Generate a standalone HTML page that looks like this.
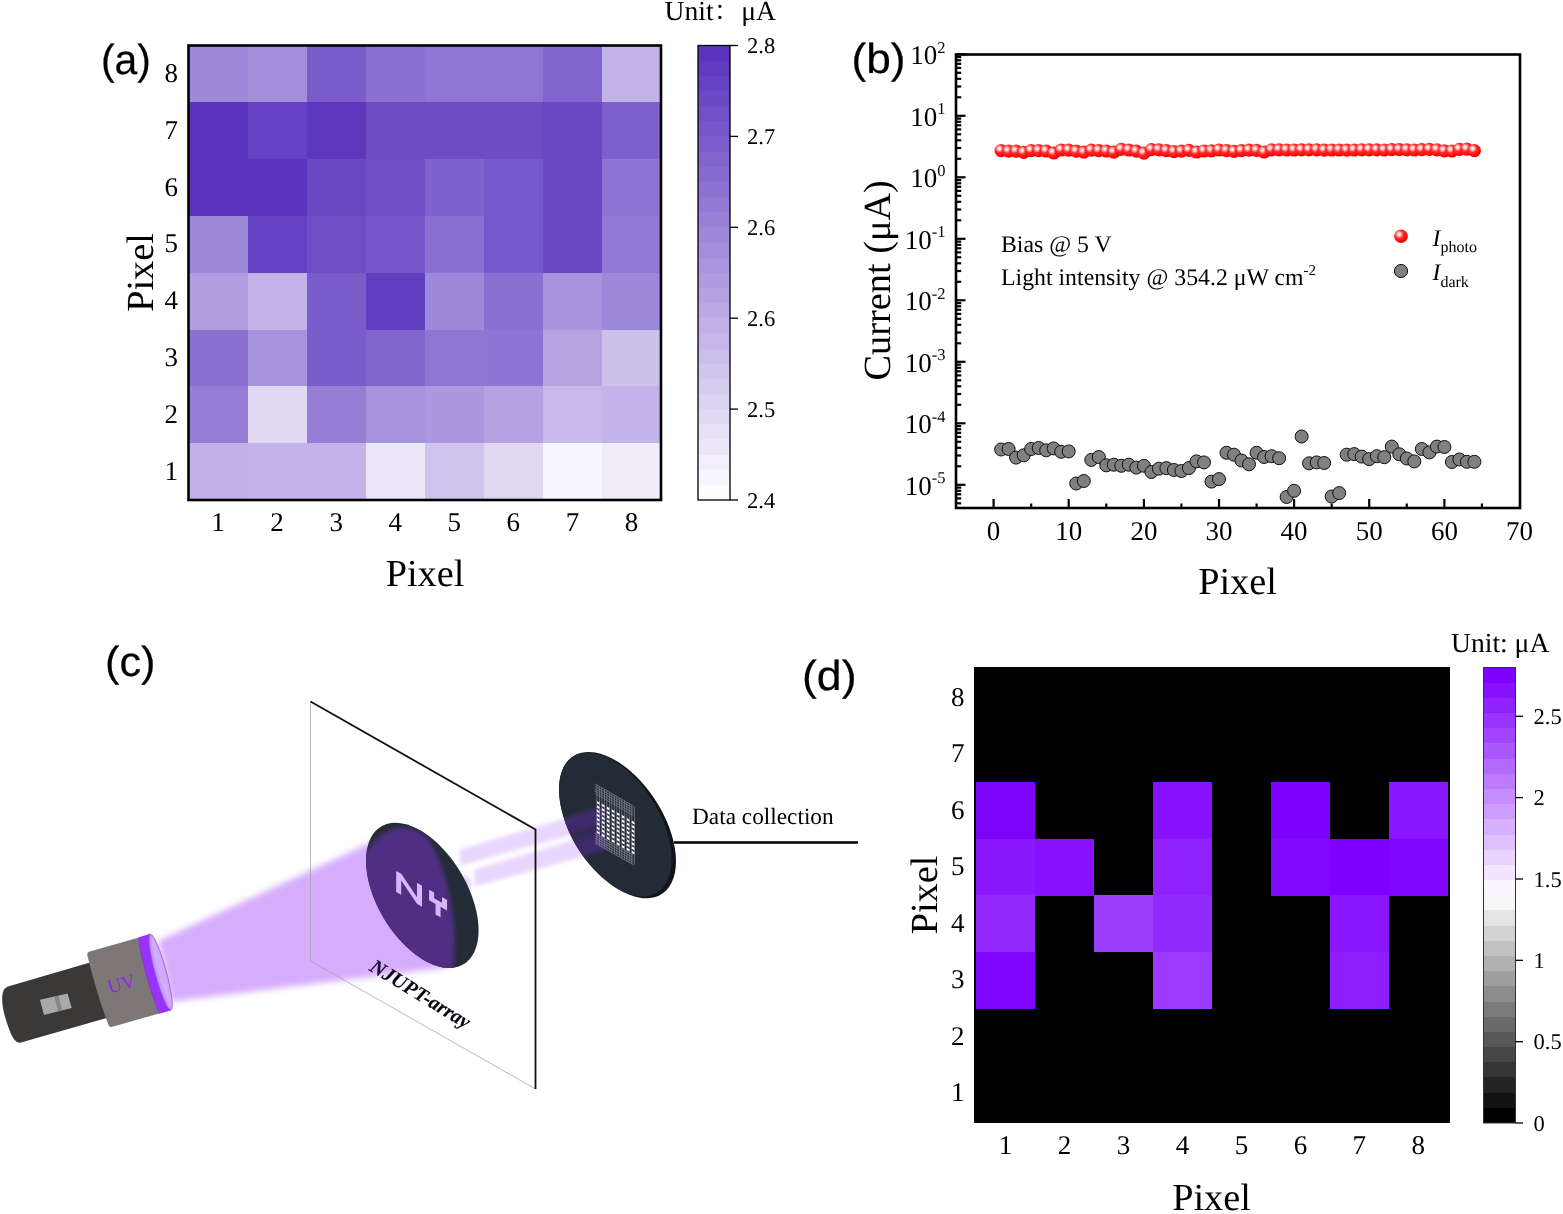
<!DOCTYPE html>
<html lang="en"><head><meta charset="utf-8"><title>Figure</title>
<style>
html,body{margin:0;padding:0;background:#fff;}
body{width:1563px;height:1214px;overflow:hidden;}
svg{display:block;}
</style></head>
<body>
<svg width="1563" height="1214" viewBox="0 0 1563 1214" text-rendering="geometricPrecision">
<rect width="1563" height="1214" fill="#fff"/>
<defs>
<radialGradient id="rg" cx="0.38" cy="0.36" r="0.62" fx="0.36" fy="0.34">
<stop offset="0" stop-color="#ffffff"/><stop offset="0.18" stop-color="#ffd2d2"/>
<stop offset="0.5" stop-color="#ff2a2a"/><stop offset="1" stop-color="#f40000"/>
</radialGradient>
<filter id="b1" x="-20%" y="-20%" width="140%" height="140%"><feGaussianBlur stdDeviation="1.2"/></filter>
<filter id="b2" x="-20%" y="-20%" width="140%" height="140%"><feGaussianBlur stdDeviation="2.2"/></filter>
<filter id="b3" x="-20%" y="-20%" width="140%" height="140%"><feGaussianBlur stdDeviation="3.2"/></filter>
<filter id="b5" x="-30%" y="-30%" width="160%" height="160%"><feGaussianBlur stdDeviation="5"/></filter>
</defs>
<g id="panel-a" shape-rendering="crispEdges">
<rect x="188.50" y="45.50" width="59.46" height="57.21" fill="#9e88d9"/>
<rect x="247.56" y="45.50" width="59.46" height="57.21" fill="#a38edb"/>
<rect x="306.62" y="45.50" width="59.46" height="57.21" fill="#7b5ccb"/>
<rect x="365.69" y="45.50" width="59.46" height="57.21" fill="#8b70d2"/>
<rect x="424.75" y="45.50" width="59.46" height="57.21" fill="#9076d3"/>
<rect x="483.81" y="45.50" width="59.46" height="57.21" fill="#9076d3"/>
<rect x="542.88" y="45.50" width="59.46" height="57.21" fill="#8164ce"/>
<rect x="601.94" y="45.50" width="59.46" height="57.21" fill="#c1b2e7"/>
<rect x="188.50" y="102.31" width="59.46" height="57.21" fill="#5a34be"/>
<rect x="247.56" y="102.31" width="59.46" height="57.21" fill="#6542c3"/>
<rect x="306.62" y="102.31" width="59.46" height="57.21" fill="#5d38bf"/>
<rect x="365.69" y="102.31" width="59.46" height="57.21" fill="#6e4cc6"/>
<rect x="424.75" y="102.31" width="59.46" height="57.21" fill="#6e4cc6"/>
<rect x="483.81" y="102.31" width="59.46" height="57.21" fill="#6e4cc6"/>
<rect x="542.88" y="102.31" width="59.46" height="57.21" fill="#6a48c4"/>
<rect x="601.94" y="102.31" width="59.46" height="57.21" fill="#7e60cc"/>
<rect x="188.50" y="159.12" width="59.46" height="57.21" fill="#5a34be"/>
<rect x="247.56" y="159.12" width="59.46" height="57.21" fill="#5a34be"/>
<rect x="306.62" y="159.12" width="59.46" height="57.21" fill="#6a48c4"/>
<rect x="365.69" y="159.12" width="59.46" height="57.21" fill="#6f4ec6"/>
<rect x="424.75" y="159.12" width="59.46" height="57.21" fill="#7f62cd"/>
<rect x="483.81" y="159.12" width="59.46" height="57.21" fill="#7758ca"/>
<rect x="542.88" y="159.12" width="59.46" height="57.21" fill="#6a48c4"/>
<rect x="601.94" y="159.12" width="59.46" height="57.21" fill="#8e74d3"/>
<rect x="188.50" y="215.94" width="59.46" height="57.21" fill="#9e88d9"/>
<rect x="247.56" y="215.94" width="59.46" height="57.21" fill="#6542c3"/>
<rect x="306.62" y="215.94" width="59.46" height="57.21" fill="#6f4ec6"/>
<rect x="365.69" y="215.94" width="59.46" height="57.21" fill="#7656c9"/>
<rect x="424.75" y="215.94" width="59.46" height="57.21" fill="#8b70d2"/>
<rect x="483.81" y="215.94" width="59.46" height="57.21" fill="#7758ca"/>
<rect x="542.88" y="215.94" width="59.46" height="57.21" fill="#6a48c4"/>
<rect x="601.94" y="215.94" width="59.46" height="57.21" fill="#9178d4"/>
<rect x="188.50" y="272.75" width="59.46" height="57.21" fill="#b09ee0"/>
<rect x="247.56" y="272.75" width="59.46" height="57.21" fill="#c1b2e7"/>
<rect x="306.62" y="272.75" width="59.46" height="57.21" fill="#7b5ccb"/>
<rect x="365.69" y="272.75" width="59.46" height="57.21" fill="#623ec1"/>
<rect x="424.75" y="272.75" width="59.46" height="57.21" fill="#9e88d9"/>
<rect x="483.81" y="272.75" width="59.46" height="57.21" fill="#8b70d2"/>
<rect x="542.88" y="272.75" width="59.46" height="57.21" fill="#a894dd"/>
<rect x="601.94" y="272.75" width="59.46" height="57.21" fill="#9e88d9"/>
<rect x="188.50" y="329.56" width="59.46" height="57.21" fill="#8b70d2"/>
<rect x="247.56" y="329.56" width="59.46" height="57.21" fill="#a792dd"/>
<rect x="306.62" y="329.56" width="59.46" height="57.21" fill="#7b5ccb"/>
<rect x="365.69" y="329.56" width="59.46" height="57.21" fill="#8164ce"/>
<rect x="424.75" y="329.56" width="59.46" height="57.21" fill="#9076d3"/>
<rect x="483.81" y="329.56" width="59.46" height="57.21" fill="#8e74d3"/>
<rect x="542.88" y="329.56" width="59.46" height="57.21" fill="#b5a4e2"/>
<rect x="601.94" y="329.56" width="59.46" height="57.21" fill="#ccc0ec"/>
<rect x="188.50" y="386.38" width="59.46" height="57.21" fill="#957cd5"/>
<rect x="247.56" y="386.38" width="59.46" height="57.21" fill="#e1daf4"/>
<rect x="306.62" y="386.38" width="59.46" height="57.21" fill="#967ed6"/>
<rect x="365.69" y="386.38" width="59.46" height="57.21" fill="#a894dd"/>
<rect x="424.75" y="386.38" width="59.46" height="57.21" fill="#ac98de"/>
<rect x="483.81" y="386.38" width="59.46" height="57.21" fill="#b4a2e2"/>
<rect x="542.88" y="386.38" width="59.46" height="57.21" fill="#c7baea"/>
<rect x="601.94" y="386.38" width="59.46" height="57.21" fill="#c2b4e8"/>
<rect x="188.50" y="443.19" width="59.46" height="57.21" fill="#bfb0e6"/>
<rect x="247.56" y="443.19" width="59.46" height="57.21" fill="#c2b4e8"/>
<rect x="306.62" y="443.19" width="59.46" height="57.21" fill="#c2b4e8"/>
<rect x="365.69" y="443.19" width="59.46" height="57.21" fill="#ebe6f8"/>
<rect x="424.75" y="443.19" width="59.46" height="57.21" fill="#cfc4ed"/>
<rect x="483.81" y="443.19" width="59.46" height="57.21" fill="#e0d8f3"/>
<rect x="542.88" y="443.19" width="59.46" height="57.21" fill="#f7f5fd"/>
<rect x="601.94" y="443.19" width="59.46" height="57.21" fill="#f0ecfa"/>
</g>
<rect x="188.5" y="45.5" width="472.5" height="454.5" fill="none" stroke="#000" stroke-width="2.6"/>
<g font-family='"Liberation Serif", "Noto Serif CJK SC", serif' font-size="27" fill="#000">
<text x="218.0" y="531" text-anchor="middle">1</text>
<text x="178" y="479.6" text-anchor="end">1</text>
<text x="277.1" y="531" text-anchor="middle">2</text>
<text x="178" y="422.8" text-anchor="end">2</text>
<text x="336.2" y="531" text-anchor="middle">3</text>
<text x="178" y="366.0" text-anchor="end">3</text>
<text x="395.2" y="531" text-anchor="middle">4</text>
<text x="178" y="309.2" text-anchor="end">4</text>
<text x="454.3" y="531" text-anchor="middle">5</text>
<text x="178" y="252.3" text-anchor="end">5</text>
<text x="513.3" y="531" text-anchor="middle">6</text>
<text x="178" y="195.5" text-anchor="end">6</text>
<text x="572.4" y="531" text-anchor="middle">7</text>
<text x="178" y="138.7" text-anchor="end">7</text>
<text x="631.5" y="531" text-anchor="middle">8</text>
<text x="178" y="81.9" text-anchor="end">8</text>
</g>
<text x="425" y="585.5" text-anchor="middle" font-family='"Liberation Serif", "Noto Serif CJK SC", serif' font-size="38.3">Pixel</text>
<text transform="translate(152.5,272.5) rotate(-90)" text-anchor="middle" font-family='"Liberation Serif", "Noto Serif CJK SC", serif' font-size="38.3">Pixel</text>
<text x="101" y="73.5" font-family='"Liberation Sans", sans-serif' font-size="42" textLength="50" lengthAdjust="spacingAndGlyphs" stroke="#000" stroke-width="0.2">(a)</text>
<g shape-rendering="crispEdges">
<rect x="698.0" y="45.50" width="32.0" height="15.55" fill="#5a34be"/>
<rect x="698.0" y="60.65" width="32.0" height="15.55" fill="#603bc0"/>
<rect x="698.0" y="75.80" width="32.0" height="15.55" fill="#6542c2"/>
<rect x="698.0" y="90.95" width="32.0" height="15.55" fill="#6b49c5"/>
<rect x="698.0" y="106.10" width="32.0" height="15.55" fill="#7050c7"/>
<rect x="698.0" y="121.25" width="32.0" height="15.55" fill="#7656c9"/>
<rect x="698.0" y="136.40" width="32.0" height="15.55" fill="#7c5dcb"/>
<rect x="698.0" y="151.55" width="32.0" height="15.55" fill="#8164ce"/>
<rect x="698.0" y="166.70" width="32.0" height="15.55" fill="#876bd0"/>
<rect x="698.0" y="181.85" width="32.0" height="15.55" fill="#8d72d2"/>
<rect x="698.0" y="197.00" width="32.0" height="15.55" fill="#9279d4"/>
<rect x="698.0" y="212.15" width="32.0" height="15.55" fill="#9880d7"/>
<rect x="698.0" y="227.30" width="32.0" height="15.55" fill="#9d87d9"/>
<rect x="698.0" y="242.45" width="32.0" height="15.55" fill="#a38edb"/>
<rect x="698.0" y="257.60" width="32.0" height="15.55" fill="#a995dd"/>
<rect x="698.0" y="272.75" width="32.0" height="15.55" fill="#ae9be0"/>
<rect x="698.0" y="287.90" width="32.0" height="15.55" fill="#b4a2e2"/>
<rect x="698.0" y="303.05" width="32.0" height="15.55" fill="#baa9e4"/>
<rect x="698.0" y="318.20" width="32.0" height="15.55" fill="#bfb0e6"/>
<rect x="698.0" y="333.35" width="32.0" height="15.55" fill="#c5b7e9"/>
<rect x="698.0" y="348.50" width="32.0" height="15.55" fill="#cabeeb"/>
<rect x="698.0" y="363.65" width="32.0" height="15.55" fill="#d0c5ed"/>
<rect x="698.0" y="378.80" width="32.0" height="15.55" fill="#d6ccef"/>
<rect x="698.0" y="393.95" width="32.0" height="15.55" fill="#dbd3f2"/>
<rect x="698.0" y="409.10" width="32.0" height="15.55" fill="#e1daf4"/>
<rect x="698.0" y="424.25" width="32.0" height="15.55" fill="#e7e0f6"/>
<rect x="698.0" y="439.40" width="32.0" height="15.55" fill="#ece7f8"/>
<rect x="698.0" y="454.55" width="32.0" height="15.55" fill="#f2eefb"/>
<rect x="698.0" y="469.70" width="32.0" height="15.55" fill="#f7f5fd"/>
<rect x="698.0" y="484.85" width="32.0" height="15.55" fill="#fdfcff"/>
</g>
<rect x="698.0" y="45.5" width="32.0" height="454.5" fill="none" stroke="#000" stroke-width="1.3"/>
<g font-family='"Liberation Serif", "Noto Serif CJK SC", serif' font-size="22.5" fill="#000">
<line x1="730.0" y1="45.5" x2="738" y2="45.5" stroke="#000" stroke-width="1.3"/>
<text x="747" y="53.1">2.8</text>
<line x1="730.0" y1="136.4" x2="738" y2="136.4" stroke="#000" stroke-width="1.3"/>
<text x="747" y="144.0">2.7</text>
<line x1="730.0" y1="227.3" x2="738" y2="227.3" stroke="#000" stroke-width="1.3"/>
<text x="747" y="234.9">2.6</text>
<line x1="730.0" y1="318.2" x2="738" y2="318.2" stroke="#000" stroke-width="1.3"/>
<text x="747" y="325.8">2.6</text>
<line x1="730.0" y1="409.1" x2="738" y2="409.1" stroke="#000" stroke-width="1.3"/>
<text x="747" y="416.7">2.5</text>
<line x1="730.0" y1="500.0" x2="738" y2="500.0" stroke="#000" stroke-width="1.3"/>
<text x="747" y="507.6">2.4</text>
</g>
<text x="664.5" y="20.2" font-family='"Liberation Serif", "Noto Serif CJK SC", serif' font-size="27.6">Unit：μA</text>
<g id="panel-b">
<g stroke="#000" stroke-width="2.2">
<line x1="956.0" y1="484.8" x2="965.5" y2="484.8"/>
<line x1="956.0" y1="423.3" x2="965.5" y2="423.3"/>
<line x1="956.0" y1="361.8" x2="965.5" y2="361.8"/>
<line x1="956.0" y1="300.3" x2="965.5" y2="300.3"/>
<line x1="956.0" y1="238.8" x2="965.5" y2="238.8"/>
<line x1="956.0" y1="177.3" x2="965.5" y2="177.3"/>
<line x1="956.0" y1="115.8" x2="965.5" y2="115.8"/>
<line x1="956.0" y1="54.3" x2="965.5" y2="54.3"/>
<line x1="956.0" y1="503.3" x2="961.2" y2="503.3"/>
<line x1="956.0" y1="498.4" x2="961.2" y2="498.4"/>
<line x1="956.0" y1="494.3" x2="961.2" y2="494.3"/>
<line x1="956.0" y1="490.8" x2="961.2" y2="490.8"/>
<line x1="956.0" y1="487.6" x2="961.2" y2="487.6"/>
<line x1="956.0" y1="466.3" x2="961.2" y2="466.3"/>
<line x1="956.0" y1="455.5" x2="961.2" y2="455.5"/>
<line x1="956.0" y1="447.8" x2="961.2" y2="447.8"/>
<line x1="956.0" y1="441.8" x2="961.2" y2="441.8"/>
<line x1="956.0" y1="436.9" x2="961.2" y2="436.9"/>
<line x1="956.0" y1="432.8" x2="961.2" y2="432.8"/>
<line x1="956.0" y1="429.3" x2="961.2" y2="429.3"/>
<line x1="956.0" y1="426.1" x2="961.2" y2="426.1"/>
<line x1="956.0" y1="404.8" x2="961.2" y2="404.8"/>
<line x1="956.0" y1="394.0" x2="961.2" y2="394.0"/>
<line x1="956.0" y1="386.3" x2="961.2" y2="386.3"/>
<line x1="956.0" y1="380.3" x2="961.2" y2="380.3"/>
<line x1="956.0" y1="375.4" x2="961.2" y2="375.4"/>
<line x1="956.0" y1="371.3" x2="961.2" y2="371.3"/>
<line x1="956.0" y1="367.8" x2="961.2" y2="367.8"/>
<line x1="956.0" y1="364.6" x2="961.2" y2="364.6"/>
<line x1="956.0" y1="343.3" x2="961.2" y2="343.3"/>
<line x1="956.0" y1="332.5" x2="961.2" y2="332.5"/>
<line x1="956.0" y1="324.8" x2="961.2" y2="324.8"/>
<line x1="956.0" y1="318.8" x2="961.2" y2="318.8"/>
<line x1="956.0" y1="313.9" x2="961.2" y2="313.9"/>
<line x1="956.0" y1="309.8" x2="961.2" y2="309.8"/>
<line x1="956.0" y1="306.3" x2="961.2" y2="306.3"/>
<line x1="956.0" y1="303.1" x2="961.2" y2="303.1"/>
<line x1="956.0" y1="281.8" x2="961.2" y2="281.8"/>
<line x1="956.0" y1="271.0" x2="961.2" y2="271.0"/>
<line x1="956.0" y1="263.3" x2="961.2" y2="263.3"/>
<line x1="956.0" y1="257.3" x2="961.2" y2="257.3"/>
<line x1="956.0" y1="252.4" x2="961.2" y2="252.4"/>
<line x1="956.0" y1="248.3" x2="961.2" y2="248.3"/>
<line x1="956.0" y1="244.8" x2="961.2" y2="244.8"/>
<line x1="956.0" y1="241.6" x2="961.2" y2="241.6"/>
<line x1="956.0" y1="220.3" x2="961.2" y2="220.3"/>
<line x1="956.0" y1="209.5" x2="961.2" y2="209.5"/>
<line x1="956.0" y1="201.8" x2="961.2" y2="201.8"/>
<line x1="956.0" y1="195.8" x2="961.2" y2="195.8"/>
<line x1="956.0" y1="190.9" x2="961.2" y2="190.9"/>
<line x1="956.0" y1="186.8" x2="961.2" y2="186.8"/>
<line x1="956.0" y1="183.3" x2="961.2" y2="183.3"/>
<line x1="956.0" y1="180.1" x2="961.2" y2="180.1"/>
<line x1="956.0" y1="158.8" x2="961.2" y2="158.8"/>
<line x1="956.0" y1="148.0" x2="961.2" y2="148.0"/>
<line x1="956.0" y1="140.3" x2="961.2" y2="140.3"/>
<line x1="956.0" y1="134.3" x2="961.2" y2="134.3"/>
<line x1="956.0" y1="129.4" x2="961.2" y2="129.4"/>
<line x1="956.0" y1="125.3" x2="961.2" y2="125.3"/>
<line x1="956.0" y1="121.8" x2="961.2" y2="121.8"/>
<line x1="956.0" y1="118.6" x2="961.2" y2="118.6"/>
<line x1="956.0" y1="97.3" x2="961.2" y2="97.3"/>
<line x1="956.0" y1="86.5" x2="961.2" y2="86.5"/>
<line x1="956.0" y1="78.8" x2="961.2" y2="78.8"/>
<line x1="956.0" y1="72.8" x2="961.2" y2="72.8"/>
<line x1="956.0" y1="67.9" x2="961.2" y2="67.9"/>
<line x1="956.0" y1="63.8" x2="961.2" y2="63.8"/>
<line x1="956.0" y1="60.3" x2="961.2" y2="60.3"/>
<line x1="956.0" y1="57.1" x2="961.2" y2="57.1"/>
<line x1="993.6" y1="508.0" x2="993.6" y2="499.0"/>
<line x1="1031.2" y1="508.0" x2="1031.2" y2="503.5"/>
<line x1="1068.7" y1="508.0" x2="1068.7" y2="499.0"/>
<line x1="1106.3" y1="508.0" x2="1106.3" y2="503.5"/>
<line x1="1143.9" y1="508.0" x2="1143.9" y2="499.0"/>
<line x1="1181.4" y1="508.0" x2="1181.4" y2="503.5"/>
<line x1="1219.0" y1="508.0" x2="1219.0" y2="499.0"/>
<line x1="1256.6" y1="508.0" x2="1256.6" y2="503.5"/>
<line x1="1294.1" y1="508.0" x2="1294.1" y2="499.0"/>
<line x1="1331.7" y1="508.0" x2="1331.7" y2="503.5"/>
<line x1="1369.2" y1="508.0" x2="1369.2" y2="499.0"/>
<line x1="1406.8" y1="508.0" x2="1406.8" y2="503.5"/>
<line x1="1444.4" y1="508.0" x2="1444.4" y2="499.0"/>
<line x1="1481.9" y1="508.0" x2="1481.9" y2="503.5"/>
</g>
<rect x="956.0" y="54.5" width="564.0" height="453.5" fill="none" stroke="#000" stroke-width="2.6"/>
<g font-family='"Liberation Serif", "Noto Serif CJK SC", serif' font-size="27" fill="#000" text-anchor="end">
<text x="945.5" y="494.6">10<tspan font-size="16.5" dy="-11.5">-5</tspan></text>
<text x="945.5" y="433.1">10<tspan font-size="16.5" dy="-11.5">-4</tspan></text>
<text x="945.5" y="371.6">10<tspan font-size="16.5" dy="-11.5">-3</tspan></text>
<text x="945.5" y="310.1">10<tspan font-size="16.5" dy="-11.5">-2</tspan></text>
<text x="945.5" y="248.6">10<tspan font-size="16.5" dy="-11.5">-1</tspan></text>
<text x="945.5" y="187.1">10<tspan font-size="16.5" dy="-11.5">0</tspan></text>
<text x="945.5" y="125.6">10<tspan font-size="16.5" dy="-11.5">1</tspan></text>
<text x="945.5" y="64.1">10<tspan font-size="16.5" dy="-11.5">2</tspan></text>
</g>
<g font-family='"Liberation Serif", "Noto Serif CJK SC", serif' font-size="27" fill="#000" text-anchor="middle">
<text x="993.6" y="540">0</text>
<text x="1068.7" y="540">10</text>
<text x="1143.9" y="540">20</text>
<text x="1219.0" y="540">30</text>
<text x="1294.1" y="540">40</text>
<text x="1369.2" y="540">50</text>
<text x="1444.4" y="540">60</text>
<text x="1519.5" y="540">70</text>
</g>
<text x="1237.5" y="593.5" text-anchor="middle" font-family='"Liberation Serif", "Noto Serif CJK SC", serif' font-size="38.3">Pixel</text>
<text transform="translate(889.5,280.3) rotate(-90)" text-anchor="middle" font-family='"Liberation Serif", "Noto Serif CJK SC", serif' font-size="38.3">Current (μA)</text>
<text x="851.5" y="73" font-family='"Liberation Sans", sans-serif' font-size="42" textLength="54" lengthAdjust="spacingAndGlyphs" stroke="#000" stroke-width="0.2">(b)</text>
<g fill="#808080" stroke="#111" stroke-width="1">
<circle cx="1001.1" cy="449.5" r="6.5"/>
<circle cx="1008.6" cy="449.0" r="6.5"/>
<circle cx="1016.1" cy="457.6" r="6.5"/>
<circle cx="1023.7" cy="455.3" r="6.5"/>
<circle cx="1031.2" cy="449.0" r="6.5"/>
<circle cx="1038.7" cy="448.0" r="6.5"/>
<circle cx="1046.2" cy="450.3" r="6.5"/>
<circle cx="1053.7" cy="448.4" r="6.5"/>
<circle cx="1061.2" cy="451.8" r="6.5"/>
<circle cx="1068.7" cy="451.4" r="6.5"/>
<circle cx="1076.2" cy="483.5" r="6.5"/>
<circle cx="1083.8" cy="481.0" r="6.5"/>
<circle cx="1091.3" cy="459.9" r="6.5"/>
<circle cx="1098.8" cy="457.0" r="6.5"/>
<circle cx="1106.3" cy="465.3" r="6.5"/>
<circle cx="1113.8" cy="464.7" r="6.5"/>
<circle cx="1121.3" cy="465.8" r="6.5"/>
<circle cx="1128.8" cy="464.7" r="6.5"/>
<circle cx="1136.3" cy="467.6" r="6.5"/>
<circle cx="1143.9" cy="465.8" r="6.5"/>
<circle cx="1151.4" cy="472.0" r="6.5"/>
<circle cx="1158.9" cy="468.7" r="6.5"/>
<circle cx="1166.4" cy="468.1" r="6.5"/>
<circle cx="1173.9" cy="470.0" r="6.5"/>
<circle cx="1181.4" cy="471.0" r="6.5"/>
<circle cx="1188.9" cy="468.1" r="6.5"/>
<circle cx="1196.5" cy="461.4" r="6.5"/>
<circle cx="1204.0" cy="462.4" r="6.5"/>
<circle cx="1211.5" cy="481.6" r="6.5"/>
<circle cx="1219.0" cy="479.1" r="6.5"/>
<circle cx="1226.5" cy="452.8" r="6.5"/>
<circle cx="1234.0" cy="454.7" r="6.5"/>
<circle cx="1241.5" cy="460.5" r="6.5"/>
<circle cx="1249.0" cy="464.3" r="6.5"/>
<circle cx="1256.6" cy="452.8" r="6.5"/>
<circle cx="1264.1" cy="457.0" r="6.5"/>
<circle cx="1271.6" cy="456.2" r="6.5"/>
<circle cx="1279.1" cy="458.2" r="6.5"/>
<circle cx="1286.6" cy="497.0" r="6.5"/>
<circle cx="1294.1" cy="490.8" r="6.5"/>
<circle cx="1301.6" cy="436.5" r="6.5"/>
<circle cx="1309.1" cy="463.3" r="6.5"/>
<circle cx="1316.7" cy="462.4" r="6.5"/>
<circle cx="1324.2" cy="463.0" r="6.5"/>
<circle cx="1331.7" cy="496.5" r="6.5"/>
<circle cx="1339.2" cy="493.1" r="6.5"/>
<circle cx="1346.7" cy="454.7" r="6.5"/>
<circle cx="1354.2" cy="454.1" r="6.5"/>
<circle cx="1361.7" cy="456.6" r="6.5"/>
<circle cx="1369.2" cy="459.1" r="6.5"/>
<circle cx="1376.8" cy="456.2" r="6.5"/>
<circle cx="1384.3" cy="457.2" r="6.5"/>
<circle cx="1391.8" cy="446.6" r="6.5"/>
<circle cx="1399.3" cy="454.3" r="6.5"/>
<circle cx="1406.8" cy="458.5" r="6.5"/>
<circle cx="1414.3" cy="461.4" r="6.5"/>
<circle cx="1421.8" cy="449.0" r="6.5"/>
<circle cx="1429.4" cy="452.4" r="6.5"/>
<circle cx="1436.9" cy="446.6" r="6.5"/>
<circle cx="1444.4" cy="447.0" r="6.5"/>
<circle cx="1451.9" cy="462.0" r="6.5"/>
<circle cx="1459.4" cy="459.5" r="6.5"/>
<circle cx="1466.9" cy="461.8" r="6.5"/>
<circle cx="1474.4" cy="461.8" r="6.5"/>
</g>
<circle cx="1001.1" cy="150.6" r="6.6" fill="url(#rg)"/>
<circle cx="1008.6" cy="151.2" r="6.6" fill="url(#rg)"/>
<circle cx="1016.1" cy="151.2" r="6.6" fill="url(#rg)"/>
<circle cx="1023.7" cy="152.4" r="6.6" fill="url(#rg)"/>
<circle cx="1031.2" cy="150.6" r="6.6" fill="url(#rg)"/>
<circle cx="1038.7" cy="150.6" r="6.6" fill="url(#rg)"/>
<circle cx="1046.2" cy="151.0" r="6.6" fill="url(#rg)"/>
<circle cx="1053.7" cy="153.0" r="6.6" fill="url(#rg)"/>
<circle cx="1061.2" cy="150.0" r="6.6" fill="url(#rg)"/>
<circle cx="1068.7" cy="150.2" r="6.6" fill="url(#rg)"/>
<circle cx="1076.2" cy="151.2" r="6.6" fill="url(#rg)"/>
<circle cx="1083.8" cy="152.2" r="6.6" fill="url(#rg)"/>
<circle cx="1091.3" cy="150.2" r="6.6" fill="url(#rg)"/>
<circle cx="1098.8" cy="150.6" r="6.6" fill="url(#rg)"/>
<circle cx="1106.3" cy="151.0" r="6.6" fill="url(#rg)"/>
<circle cx="1113.8" cy="152.2" r="6.6" fill="url(#rg)"/>
<circle cx="1121.3" cy="149.4" r="6.6" fill="url(#rg)"/>
<circle cx="1128.8" cy="150.0" r="6.6" fill="url(#rg)"/>
<circle cx="1136.3" cy="151.2" r="6.6" fill="url(#rg)"/>
<circle cx="1143.9" cy="153.2" r="6.6" fill="url(#rg)"/>
<circle cx="1151.4" cy="149.6" r="6.6" fill="url(#rg)"/>
<circle cx="1158.9" cy="149.8" r="6.6" fill="url(#rg)"/>
<circle cx="1166.4" cy="150.6" r="6.6" fill="url(#rg)"/>
<circle cx="1173.9" cy="151.6" r="6.6" fill="url(#rg)"/>
<circle cx="1181.4" cy="151.2" r="6.6" fill="url(#rg)"/>
<circle cx="1188.9" cy="150.4" r="6.6" fill="url(#rg)"/>
<circle cx="1196.5" cy="152.0" r="6.6" fill="url(#rg)"/>
<circle cx="1204.0" cy="151.0" r="6.6" fill="url(#rg)"/>
<circle cx="1211.5" cy="150.8" r="6.6" fill="url(#rg)"/>
<circle cx="1219.0" cy="150.0" r="6.6" fill="url(#rg)"/>
<circle cx="1226.5" cy="150.6" r="6.6" fill="url(#rg)"/>
<circle cx="1234.0" cy="151.4" r="6.6" fill="url(#rg)"/>
<circle cx="1241.5" cy="150.6" r="6.6" fill="url(#rg)"/>
<circle cx="1249.0" cy="150.2" r="6.6" fill="url(#rg)"/>
<circle cx="1256.6" cy="150.4" r="6.6" fill="url(#rg)"/>
<circle cx="1264.1" cy="152.0" r="6.6" fill="url(#rg)"/>
<circle cx="1271.6" cy="149.8" r="6.6" fill="url(#rg)"/>
<circle cx="1279.1" cy="149.8" r="6.6" fill="url(#rg)"/>
<circle cx="1286.6" cy="150.0" r="6.6" fill="url(#rg)"/>
<circle cx="1294.1" cy="150.0" r="6.6" fill="url(#rg)"/>
<circle cx="1301.6" cy="149.9" r="6.6" fill="url(#rg)"/>
<circle cx="1309.1" cy="149.9" r="6.6" fill="url(#rg)"/>
<circle cx="1316.7" cy="149.8" r="6.6" fill="url(#rg)"/>
<circle cx="1324.2" cy="150.2" r="6.6" fill="url(#rg)"/>
<circle cx="1331.7" cy="150.0" r="6.6" fill="url(#rg)"/>
<circle cx="1339.2" cy="150.0" r="6.6" fill="url(#rg)"/>
<circle cx="1346.7" cy="150.2" r="6.6" fill="url(#rg)"/>
<circle cx="1354.2" cy="150.0" r="6.6" fill="url(#rg)"/>
<circle cx="1361.7" cy="149.8" r="6.6" fill="url(#rg)"/>
<circle cx="1369.2" cy="149.8" r="6.6" fill="url(#rg)"/>
<circle cx="1376.8" cy="149.9" r="6.6" fill="url(#rg)"/>
<circle cx="1384.3" cy="150.0" r="6.6" fill="url(#rg)"/>
<circle cx="1391.8" cy="149.7" r="6.6" fill="url(#rg)"/>
<circle cx="1399.3" cy="149.7" r="6.6" fill="url(#rg)"/>
<circle cx="1406.8" cy="149.8" r="6.6" fill="url(#rg)"/>
<circle cx="1414.3" cy="150.0" r="6.6" fill="url(#rg)"/>
<circle cx="1421.8" cy="149.7" r="6.6" fill="url(#rg)"/>
<circle cx="1429.4" cy="149.4" r="6.6" fill="url(#rg)"/>
<circle cx="1436.9" cy="149.8" r="6.6" fill="url(#rg)"/>
<circle cx="1444.4" cy="150.8" r="6.6" fill="url(#rg)"/>
<circle cx="1451.9" cy="151.0" r="6.6" fill="url(#rg)"/>
<circle cx="1459.4" cy="149.4" r="6.6" fill="url(#rg)"/>
<circle cx="1466.9" cy="149.2" r="6.6" fill="url(#rg)"/>
<circle cx="1474.4" cy="150.6" r="6.6" fill="url(#rg)"/>
<g font-family='"Liberation Serif", "Noto Serif CJK SC", serif' font-size="23.8" fill="#000">
<text x="1001" y="252">Bias @ 5 V</text>
<text x="1001" y="284.5">Light intensity @ 354.2 μW cm<tspan font-size="15" dy="-10">-2</tspan></text>
<text x="1432.5" y="245.5"><tspan font-style="italic">I</tspan><tspan font-size="16" dy="6.5">photo</tspan></text>
<text x="1432.5" y="280"><tspan font-style="italic">I</tspan><tspan font-size="16" dy="6.5">dark</tspan></text>
</g>
<circle cx="1401" cy="236.3" r="6.8" fill="url(#rg)"/>
<circle cx="1401" cy="271" r="6.6" fill="#808080" stroke="#111" stroke-width="1"/>
</g>
<g id="panel-d" shape-rendering="crispEdges">
<rect x="974.0" y="667.3" width="475.8" height="456.0" fill="#000"/>
<rect x="976.00" y="782.12" width="59.37" height="56.96" fill="#7d04fb"/>
<rect x="976.00" y="838.69" width="59.37" height="56.96" fill="#8a18fd"/>
<rect x="976.00" y="895.25" width="59.37" height="56.96" fill="#9328fd"/>
<rect x="976.00" y="951.81" width="59.37" height="56.96" fill="#7f04fd"/>
<rect x="1034.97" y="838.69" width="59.37" height="56.96" fill="#8812fd"/>
<rect x="1093.95" y="895.25" width="59.37" height="56.96" fill="#9e3efd"/>
<rect x="1152.92" y="782.12" width="59.37" height="56.96" fill="#8812fd"/>
<rect x="1152.92" y="838.69" width="59.37" height="56.96" fill="#8f22fd"/>
<rect x="1152.92" y="895.25" width="59.37" height="56.96" fill="#912afc"/>
<rect x="1152.92" y="951.81" width="59.37" height="56.96" fill="#9c3afd"/>
<rect x="1270.88" y="782.12" width="59.37" height="56.96" fill="#7f00ff"/>
<rect x="1270.88" y="838.69" width="59.37" height="56.96" fill="#8008ff"/>
<rect x="1329.85" y="838.69" width="59.37" height="56.96" fill="#7f00ff"/>
<rect x="1329.85" y="895.25" width="59.37" height="56.96" fill="#8a16fd"/>
<rect x="1329.85" y="951.81" width="59.37" height="56.96" fill="#8e1efd"/>
<rect x="1388.82" y="782.12" width="59.37" height="56.96" fill="#8a16fd"/>
<rect x="1388.82" y="838.69" width="59.37" height="56.96" fill="#8006ff"/>
</g>
<g font-family='"Liberation Serif", "Noto Serif CJK SC", serif' font-size="27" fill="#000">
<text x="1005.5" y="1154" text-anchor="middle">1</text>
<text x="964.5" y="1101.4" text-anchor="end">1</text>
<text x="1064.5" y="1154" text-anchor="middle">2</text>
<text x="964.5" y="1044.9" text-anchor="end">2</text>
<text x="1123.4" y="1154" text-anchor="middle">3</text>
<text x="964.5" y="988.3" text-anchor="end">3</text>
<text x="1182.4" y="1154" text-anchor="middle">4</text>
<text x="964.5" y="931.7" text-anchor="end">4</text>
<text x="1241.4" y="1154" text-anchor="middle">5</text>
<text x="964.5" y="875.2" text-anchor="end">5</text>
<text x="1300.4" y="1154" text-anchor="middle">6</text>
<text x="964.5" y="818.6" text-anchor="end">6</text>
<text x="1359.3" y="1154" text-anchor="middle">7</text>
<text x="964.5" y="762.0" text-anchor="end">7</text>
<text x="1418.3" y="1154" text-anchor="middle">8</text>
<text x="964.5" y="705.5" text-anchor="end">8</text>
</g>
<text x="1211.5" y="1209.5" text-anchor="middle" font-family='"Liberation Serif", "Noto Serif CJK SC", serif' font-size="38.3">Pixel</text>
<text transform="translate(936.5,895) rotate(-90)" text-anchor="middle" font-family='"Liberation Serif", "Noto Serif CJK SC", serif' font-size="38.3">Pixel</text>
<text x="802" y="690" font-family='"Liberation Sans", sans-serif' font-size="42" textLength="54.5" lengthAdjust="spacingAndGlyphs" stroke="#000" stroke-width="0.2">(d)</text>
<g shape-rendering="crispEdges">
<rect x="1483.5" y="667.50" width="32.0" height="15.58" fill="#7f00ff"/>
<rect x="1483.5" y="682.68" width="32.0" height="15.58" fill="#8812ff"/>
<rect x="1483.5" y="697.87" width="32.0" height="15.58" fill="#9123ff"/>
<rect x="1483.5" y="713.05" width="32.0" height="15.58" fill="#9935ff"/>
<rect x="1483.5" y="728.23" width="32.0" height="15.58" fill="#a246ff"/>
<rect x="1483.5" y="743.42" width="32.0" height="15.58" fill="#ab58ff"/>
<rect x="1483.5" y="758.60" width="32.0" height="15.58" fill="#b46aff"/>
<rect x="1483.5" y="773.78" width="32.0" height="15.58" fill="#bd7bff"/>
<rect x="1483.5" y="788.97" width="32.0" height="15.58" fill="#c68dff"/>
<rect x="1483.5" y="804.15" width="32.0" height="15.58" fill="#ce9eff"/>
<rect x="1483.5" y="819.33" width="32.0" height="15.58" fill="#d7b0ff"/>
<rect x="1483.5" y="834.52" width="32.0" height="15.58" fill="#e0c1ff"/>
<rect x="1483.5" y="849.70" width="32.0" height="15.58" fill="#e9d3ff"/>
<rect x="1483.5" y="864.88" width="32.0" height="15.58" fill="#f2e5ff"/>
<rect x="1483.5" y="880.07" width="32.0" height="15.58" fill="#fbf6ff"/>
<rect x="1483.5" y="895.25" width="32.0" height="15.58" fill="#f6f6f6"/>
<rect x="1483.5" y="910.43" width="32.0" height="15.58" fill="#e5e5e5"/>
<rect x="1483.5" y="925.62" width="32.0" height="15.58" fill="#d3d3d3"/>
<rect x="1483.5" y="940.80" width="32.0" height="15.58" fill="#c1c1c1"/>
<rect x="1483.5" y="955.98" width="32.0" height="15.58" fill="#b0b0b0"/>
<rect x="1483.5" y="971.17" width="32.0" height="15.58" fill="#9e9e9e"/>
<rect x="1483.5" y="986.35" width="32.0" height="15.58" fill="#8d8d8d"/>
<rect x="1483.5" y="1001.53" width="32.0" height="15.58" fill="#7b7b7b"/>
<rect x="1483.5" y="1016.72" width="32.0" height="15.58" fill="#6a6a6a"/>
<rect x="1483.5" y="1031.90" width="32.0" height="15.58" fill="#585858"/>
<rect x="1483.5" y="1047.08" width="32.0" height="15.58" fill="#464646"/>
<rect x="1483.5" y="1062.27" width="32.0" height="15.58" fill="#353535"/>
<rect x="1483.5" y="1077.45" width="32.0" height="15.58" fill="#232323"/>
<rect x="1483.5" y="1092.63" width="32.0" height="15.58" fill="#121212"/>
<rect x="1483.5" y="1107.82" width="32.0" height="15.58" fill="#000000"/>
</g>
<rect x="1483.5" y="667.5" width="32.0" height="455.5" fill="none" stroke="#333" stroke-width="1"/>
<g font-family='"Liberation Serif", "Noto Serif CJK SC", serif' font-size="22.5" fill="#000">
<line x1="1515.5" y1="1123.0" x2="1523" y2="1123.0" stroke="#000" stroke-width="1.3"/>
<text x="1533.5" y="1130.6">0</text>
<line x1="1515.5" y1="1041.7" x2="1523" y2="1041.7" stroke="#000" stroke-width="1.3"/>
<text x="1533.5" y="1049.3">0.5</text>
<line x1="1515.5" y1="960.3" x2="1523" y2="960.3" stroke="#000" stroke-width="1.3"/>
<text x="1533.5" y="967.9">1</text>
<line x1="1515.5" y1="879.0" x2="1523" y2="879.0" stroke="#000" stroke-width="1.3"/>
<text x="1533.5" y="886.6">1.5</text>
<line x1="1515.5" y1="797.6" x2="1523" y2="797.6" stroke="#000" stroke-width="1.3"/>
<text x="1533.5" y="805.2">2</text>
<line x1="1515.5" y1="716.3" x2="1523" y2="716.3" stroke="#000" stroke-width="1.3"/>
<text x="1533.5" y="723.9">2.5</text>
</g>
<text x="1451" y="651.5" font-family='"Liberation Serif", "Noto Serif CJK SC", serif' font-size="27.6">Unit: μA</text>
<g id="panel-c">
<text x="105" y="676" font-family='"Liberation Sans", sans-serif' font-size="42" textLength="50.5" lengthAdjust="spacingAndGlyphs" stroke="#000" stroke-width="0.2">(c)</text>
<defs>
<clipPath id="cd1"><ellipse transform="matrix(1,0.618,0,1,422.3,895.4)" cx="0" cy="0" rx="56.3" ry="63.8"/></clipPath>
<clipPath id="cd2"><ellipse transform="matrix(1,0.618,0,1,615.3,824.6)" cx="0" cy="0" rx="56.3" ry="62.8"/></clipPath>
<linearGradient id="beamg" x1="0" y1="0" x2="1" y2="0"><stop offset="0" stop-color="#d2a8fb"/><stop offset="1" stop-color="#d6b0fc"/></linearGradient>
</defs>
<polygon points="158,941 372,842 470,880 447,967.5 172,1001.5" fill="#d5adfc" filter="url(#b3)"/>
<g filter="url(#b2)" fill="#e9d6fe">
<polygon points="460,849.5 460,865.5 600,827 600,808"/>
<polygon points="474.5,869.5 474.5,886.5 600,852 600,832"/>
</g>
<path d="M310.5 701.5 L310.5 961 L535.5 1089" fill="none" stroke="#a0a0a0" stroke-width="0.75"/>
<path d="M310.5 701.5 L535.5 829.5 L535.5 1089" fill="none" stroke="#111" stroke-width="1.8" stroke-linejoin="miter"/>
<ellipse transform="matrix(1,0.618,0,1,422.3,895.4)" cx="0" cy="0" rx="56.3" ry="63.8" fill="#242d37"/>
<g clip-path="url(#cd1)">
<path d="M350 990 L350 840 L366 853 C372 842 383 830.5 396 828.3 C408 827 417 830 424.5 834.5 C431 842 438 856 443.8 873 C448 885 452 905 454.3 929 C455 945 454 957 452.6 972 L452 990 Z" fill="#502d84" filter="url(#b2)"/>
</g>
<g transform="matrix(1,0.569,0,1,396.2,871.0)" fill="#d9b6fb">
<polygon points="0.00,0.00 5.03,0.00 20.77,14.44 20.77,0.00 25.80,0.00 25.80,21.00 20.77,21.00 5.03,6.56 5.03,21.00 0.00,21.00"/>
<polygon points="32.89,0.00 37.93,0.00 37.93,5.78 45.80,5.78 45.80,0.00 50.83,0.00 50.83,10.50 44.38,10.50 44.38,21.00 39.34,21.00 39.34,10.50 32.89,10.50"/>
</g>
<text transform="translate(368.5,970) rotate(31.4)" font-family='"Liberation Serif", "Noto Serif CJK SC", serif' font-size="20.2" font-weight="bold" font-style="italic" fill="#08060f" stroke="#08060f" stroke-width="0.12"><tspan fill="#1d0838" stroke="#1d0838">N</tspan>JUPT-array</text>
<ellipse transform="matrix(1,0.618,0,1,617.5,825.1)" cx="0" cy="0" rx="58.5" ry="63.6" fill="#10151b"/>
<ellipse transform="matrix(1,0.618,0,1,615.3,824.6)" cx="0" cy="0" rx="56.3" ry="62.8" fill="#232c36"/>
<g clip-path="url(#cd2)">
<g filter="url(#b2)" fill="#412b6e">
<polygon points="548,823 548,841 604,824 604,806"/>
<polygon points="548,847 548,866 606,850 606,830"/>
</g>
<polygon points="548,836 548,852 604,836 604,822" fill="#372a5c" filter="url(#b3)" opacity="0.7"/>
</g>
<g transform="matrix(1,0.569,0,1,598.2,802.8)">
<g stroke="#a4a9b0" stroke-width="0.55" opacity="0.8">
<line x1="-1.30" y1="-17" x2="-1.30" y2="42"/>
<line x1="1.30" y1="-17" x2="1.30" y2="42"/>
<line x1="3.68" y1="-17" x2="3.68" y2="42"/>
<line x1="6.28" y1="-17" x2="6.28" y2="42"/>
<line x1="8.66" y1="-17" x2="8.66" y2="42"/>
<line x1="11.26" y1="-17" x2="11.26" y2="42"/>
<line x1="13.64" y1="-17" x2="13.64" y2="42"/>
<line x1="16.24" y1="-17" x2="16.24" y2="42"/>
<line x1="18.62" y1="-17" x2="18.62" y2="42"/>
<line x1="21.22" y1="-17" x2="21.22" y2="42"/>
<line x1="23.60" y1="-17" x2="23.60" y2="42"/>
<line x1="26.20" y1="-17" x2="26.20" y2="42"/>
<line x1="28.58" y1="-17" x2="28.58" y2="42"/>
<line x1="31.18" y1="-17" x2="31.18" y2="42"/>
<line x1="33.56" y1="-17" x2="33.56" y2="42"/>
<line x1="36.16" y1="-17" x2="36.16" y2="42"/>
<line x1="-3.5" y1="-17.00" x2="35" y2="-17.00"/>
<line x1="-3.5" y1="32.50" x2="35" y2="32.50"/>
<line x1="-3.5" y1="-14.60" x2="35" y2="-14.60"/>
<line x1="-3.5" y1="34.90" x2="35" y2="34.90"/>
<line x1="-3.5" y1="-12.20" x2="35" y2="-12.20"/>
<line x1="-3.5" y1="37.30" x2="35" y2="37.30"/>
<line x1="-3.5" y1="-9.80" x2="35" y2="-9.80"/>
<line x1="-3.5" y1="39.70" x2="35" y2="39.70"/>
<line x1="-3.5" y1="-7.40" x2="35" y2="-7.40"/>
<line x1="-3.5" y1="42.10" x2="35" y2="42.10"/>
</g>
<g fill="#ffffff">
<rect x="-1.30" y="-1.15" width="2.6" height="2.3"/>
<rect x="-1.30" y="3.12" width="2.6" height="2.3"/>
<rect x="-1.30" y="7.39" width="2.6" height="2.3"/>
<rect x="-1.30" y="11.66" width="2.6" height="2.3"/>
<rect x="-1.30" y="15.93" width="2.6" height="2.3"/>
<rect x="-1.30" y="20.20" width="2.6" height="2.3"/>
<rect x="-1.30" y="24.47" width="2.6" height="2.3"/>
<rect x="-1.30" y="28.74" width="2.6" height="2.3"/>
<rect x="3.68" y="-1.15" width="2.6" height="2.3"/>
<rect x="3.68" y="3.12" width="2.6" height="2.3"/>
<rect x="3.68" y="7.39" width="2.6" height="2.3"/>
<rect x="3.68" y="11.66" width="2.6" height="2.3"/>
<rect x="3.68" y="15.93" width="2.6" height="2.3"/>
<rect x="3.68" y="20.20" width="2.6" height="2.3"/>
<rect x="3.68" y="24.47" width="2.6" height="2.3"/>
<rect x="3.68" y="28.74" width="2.6" height="2.3"/>
<rect x="8.66" y="-1.15" width="2.6" height="2.3"/>
<rect x="8.66" y="3.12" width="2.6" height="2.3"/>
<rect x="8.66" y="7.39" width="2.6" height="2.3"/>
<rect x="8.66" y="11.66" width="2.6" height="2.3"/>
<rect x="8.66" y="15.93" width="2.6" height="2.3"/>
<rect x="8.66" y="20.20" width="2.6" height="2.3"/>
<rect x="8.66" y="24.47" width="2.6" height="2.3"/>
<rect x="8.66" y="28.74" width="2.6" height="2.3"/>
<rect x="13.64" y="-1.15" width="2.6" height="2.3"/>
<rect x="13.64" y="3.12" width="2.6" height="2.3"/>
<rect x="13.64" y="7.39" width="2.6" height="2.3"/>
<rect x="13.64" y="11.66" width="2.6" height="2.3"/>
<rect x="13.64" y="15.93" width="2.6" height="2.3"/>
<rect x="13.64" y="20.20" width="2.6" height="2.3"/>
<rect x="13.64" y="24.47" width="2.6" height="2.3"/>
<rect x="13.64" y="28.74" width="2.6" height="2.3"/>
<rect x="18.62" y="-1.15" width="2.6" height="2.3"/>
<rect x="18.62" y="3.12" width="2.6" height="2.3"/>
<rect x="18.62" y="7.39" width="2.6" height="2.3"/>
<rect x="18.62" y="11.66" width="2.6" height="2.3"/>
<rect x="18.62" y="15.93" width="2.6" height="2.3"/>
<rect x="18.62" y="20.20" width="2.6" height="2.3"/>
<rect x="18.62" y="24.47" width="2.6" height="2.3"/>
<rect x="18.62" y="28.74" width="2.6" height="2.3"/>
<rect x="23.60" y="-1.15" width="2.6" height="2.3"/>
<rect x="23.60" y="3.12" width="2.6" height="2.3"/>
<rect x="23.60" y="7.39" width="2.6" height="2.3"/>
<rect x="23.60" y="11.66" width="2.6" height="2.3"/>
<rect x="23.60" y="15.93" width="2.6" height="2.3"/>
<rect x="23.60" y="20.20" width="2.6" height="2.3"/>
<rect x="23.60" y="24.47" width="2.6" height="2.3"/>
<rect x="23.60" y="28.74" width="2.6" height="2.3"/>
<rect x="28.58" y="-1.15" width="2.6" height="2.3"/>
<rect x="28.58" y="3.12" width="2.6" height="2.3"/>
<rect x="28.58" y="7.39" width="2.6" height="2.3"/>
<rect x="28.58" y="11.66" width="2.6" height="2.3"/>
<rect x="28.58" y="15.93" width="2.6" height="2.3"/>
<rect x="28.58" y="20.20" width="2.6" height="2.3"/>
<rect x="28.58" y="24.47" width="2.6" height="2.3"/>
<rect x="28.58" y="28.74" width="2.6" height="2.3"/>
<rect x="33.56" y="-1.15" width="2.6" height="2.3"/>
<rect x="33.56" y="3.12" width="2.6" height="2.3"/>
<rect x="33.56" y="7.39" width="2.6" height="2.3"/>
<rect x="33.56" y="11.66" width="2.6" height="2.3"/>
<rect x="33.56" y="15.93" width="2.6" height="2.3"/>
<rect x="33.56" y="20.20" width="2.6" height="2.3"/>
<rect x="33.56" y="24.47" width="2.6" height="2.3"/>
<rect x="33.56" y="28.74" width="2.6" height="2.3"/>
</g>
</g>
<line x1="674" y1="842.6" x2="858" y2="842.6" stroke="#000" stroke-width="2.5"/>
<text x="692" y="824" font-family='"Liberation Serif", "Noto Serif CJK SC", serif' font-size="23.3">Data collection</text>
<path d="M96 960.7 L8 986.5 C0 989 1 1004 6 1020 C11 1036 15 1044 21 1042.5 L111 1016.7 Z" fill="#3b3938"/>
<polygon points="39.9,999.8 67.6,993.6 71.7,1008 44,1015.1" fill="#a9a9a9"/>
<polygon points="54.3,996.6 58.3,995.7 62.2,1010.2 58.2,1011.2" fill="#858585"/>
<path d="M90.5 951.3 L138.3 937.8 L159.1 1013.4 L112.5 1026.8 Q109.5 1027.8 108.5 1025 C100 1003 93 978 87.2 955 Q86.8 952.3 90.5 951.3 Z" fill="#7d7877"/>
<path d="M138.3 937.8 L150.4 934.1 C157 950 167 985 170.6 1010.2 L159.1 1013.4 Q144.6 976.8 138.3 937.8 Z" fill="#9733fc" stroke="#7d28d0" stroke-width="0.6"/>
<ellipse cx="160.7" cy="972.1" rx="39.3" ry="5.6" transform="rotate(74.8 160.7 972.1)" fill="#c79af8" stroke="#9a55e8" stroke-width="0.7"/>
<ellipse cx="161.6" cy="972.1" rx="36" ry="3.4" transform="rotate(74.8 161.6 972.1)" fill="#d2abfb"/>
<text transform="translate(109.8,993.8) rotate(-16)" font-family='"Liberation Serif", "Noto Serif CJK SC", serif' font-size="19.5" fill="#8a2be2">UV</text>
</g>
</svg>
</body></html>
